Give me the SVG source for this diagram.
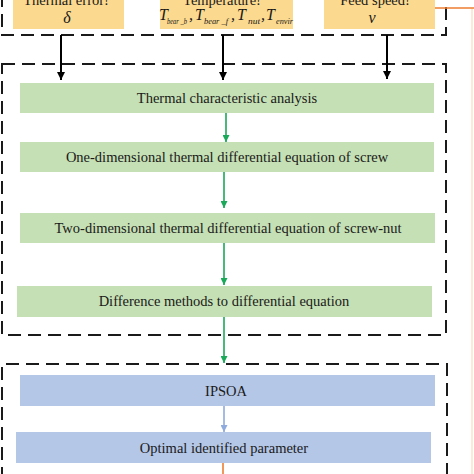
<svg xmlns="http://www.w3.org/2000/svg" width="474" height="474" viewBox="0 0 474 474">
<defs>
<style>
.dash{fill:none;stroke:#1a1a1a;stroke-width:2;stroke-dasharray:13 7}
.yb{fill:#fbd98e}
.gb{fill:#c5e0b4}
.bb{fill:#b4c7e7}
.t{font-family:"Liberation Serif","DejaVu Serif",serif;font-size:14.5px;fill:#1a1a1a;text-anchor:middle}
.m{font-family:"Liberation Serif","DejaVu Serif",serif;font-style:italic;fill:#1a1a1a}
.s{font-size:8px}
.ka{stroke:#000;stroke-width:2;fill:none}
.ga{stroke:#1aa85a;stroke-width:1.6;fill:none}
.ba{stroke:#8faadc;stroke-width:1.6;fill:none}
.oa{stroke:#ed7d31;stroke-width:1.6;fill:none}
</style>
<marker id="mk" markerWidth="8" markerHeight="8" refX="8" refY="4" orient="auto" markerUnits="userSpaceOnUse"><path d="M0,0 L8,4 L0,8 Z" fill="#000"/></marker>
<marker id="mg" markerWidth="7" markerHeight="7" refX="7" refY="3.5" orient="auto" markerUnits="userSpaceOnUse"><path d="M0,0 L7,3.5 L0,7 Z" fill="#1aa85a"/></marker>
<marker id="mb" markerWidth="7" markerHeight="7" refX="7" refY="3.5" orient="auto" markerUnits="userSpaceOnUse"><path d="M0,0 L7,3.5 L0,7 Z" fill="#8faadc"/></marker>
</defs>
<rect width="474" height="474" fill="#fff"/>

<g id="frames">
<path class="dash" d="M2,-6 L2,35 L446,35 L446,-6"/>
<rect class="dash" x="2" y="64" width="444" height="271"/>
<path class="dash" d="M2,480 L2,364 L447,364 L447,480"/>
</g>

<g id="side">
<line x1="472" y1="8" x2="472" y2="474" stroke="#fde3c8" stroke-width="1.5"/>
<line x1="435" y1="8" x2="474" y2="8" class="oa"/>
</g>

<g id="in-thermal-error">
<rect class="yb" x="13" y="-10" width="111" height="39"/>
<text class="t" x="66" y="5" font-size="15">Thermal error!</text>
<text class="m" x="67" y="23" font-size="16" text-anchor="middle">δ</text>
</g>

<g id="in-temperature">
<rect class="yb" x="160" y="-10" width="133" height="39"/>
<text class="t" x="222" y="5" font-size="15">Temperature!</text>
<text class="m" font-size="16"><tspan x="159" y="20">T</tspan><tspan class="s" x="167" y="24" textLength="20" lengthAdjust="spacingAndGlyphs">bear _b</tspan><tspan x="189" y="20">,</tspan><tspan x="195" y="20">T</tspan><tspan class="s" x="204" y="24" textLength="24" lengthAdjust="spacingAndGlyphs">bear _f</tspan><tspan x="231" y="20">,</tspan><tspan x="237" y="20">T</tspan><tspan class="s" x="248" y="24" textLength="12" lengthAdjust="spacingAndGlyphs">nut</tspan><tspan x="261" y="20">,</tspan><tspan x="266" y="20">T</tspan><tspan class="s" x="276" y="24" textLength="17" lengthAdjust="spacingAndGlyphs">envir</tspan></text>
</g>

<g id="in-feed-speed">
<rect class="yb" x="324" y="-10" width="111" height="39"/>
<text class="t" x="375" y="5" font-size="15">Feed speed!</text>
<text class="m" x="372" y="23" font-size="16" text-anchor="middle">v</text>
</g>

<g id="n1">
<rect class="gb" x="20" y="83" width="414" height="30"/>
<text class="t" x="227" y="103">Thermal characteristic analysis</text>
</g>
<g id="n2">
<rect class="gb" x="20" y="142" width="414" height="30"/>
<text class="t" x="227" y="162">One-dimensional thermal differential equation of screw</text>
</g>
<g id="n3">
<rect class="gb" x="20" y="213" width="415" height="30"/>
<text class="t" x="228" y="233">Two-dimensional thermal differential equation of screw-nut</text>
</g>
<g id="n4">
<rect class="gb" x="17" y="286" width="415" height="31"/>
<text class="t" x="224" y="306">Difference methods to differential equation</text>
</g>
<g id="n5">
<rect class="bb" x="20" y="375" width="415" height="31"/>
<text class="t" x="226" y="396">IPSOA</text>
</g>
<g id="n6">
<rect class="bb" x="16" y="432" width="415" height="31"/>
<text class="t" x="224" y="453">Optimal identified parameter</text>
</g>

<g id="connectors">
<line class="ka" x1="61" y1="35" x2="61" y2="80" marker-end="url(#mk)"/>
<line class="ka" x1="223" y1="35" x2="223" y2="80" marker-end="url(#mk)"/>
<line class="ka" x1="387" y1="35" x2="387" y2="79" marker-end="url(#mk)"/>
<line class="ga" x1="226" y1="113" x2="226" y2="142" marker-end="url(#mg)"/>
<line class="ga" x1="224" y1="172" x2="224" y2="208" marker-end="url(#mg)"/>
<line class="ga" x1="224" y1="243" x2="224" y2="285" marker-end="url(#mg)"/>
<line class="ga" x1="224" y1="317" x2="224" y2="363" marker-end="url(#mg)"/>
<line class="ba" x1="224" y1="406" x2="224" y2="432" marker-end="url(#mb)"/>
<line class="oa" x1="223" y1="463" x2="223" y2="474"/>
</g>
</svg>
